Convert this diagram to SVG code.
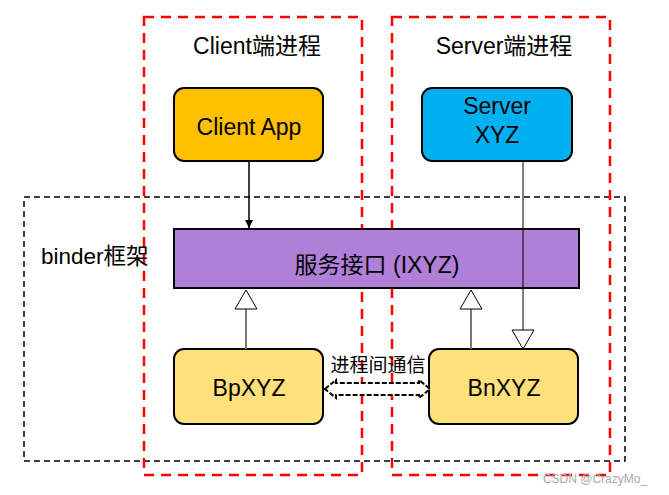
<svg xmlns="http://www.w3.org/2000/svg" width="669" height="495" viewBox="0 0 669 495">
<style>
text{font-family:"Liberation Sans",Arial,"Noto Sans CJK SC",sans-serif;fill:#000}
.red{fill:none;stroke:#FF0000;stroke-width:2.5;stroke-dasharray:10,7}
.blk{fill:none;stroke:#000;stroke-width:1.5;stroke-dasharray:6,4}
.node{stroke:#000;stroke-width:2}
.t{font-size:23px;text-anchor:middle}
.tri{fill:#fff;stroke:#000;stroke-width:1}
</style>
<defs>
<marker id="fa" viewBox="0 0 10 10" refX="10" refY="5" markerWidth="8" markerHeight="8" orient="auto" markerUnits="userSpaceOnUse"><path d="M0,0L10,5L0,10Z" fill="#000"/></marker>
</defs>
<rect class="blk" x="24" y="197" width="601" height="264"/>
<rect class="red" x="144" y="17" width="218" height="458"/>
<rect class="red" x="392" y="17" width="218" height="458"/>
<text x="257" y="54" class="t">Client端进程</text>
<text x="504" y="54" class="t">Server端进程</text>
<text x="41" y="264" font-size="22.5">binder框架</text>
<g id="client"><rect class="node" x="174" y="88" width="149" height="73" rx="10" fill="#FFC000"/><text x="249" y="135" class="t">Client App</text></g>
<g id="server"><rect class="node" x="422" y="88" width="150" height="73" rx="10" fill="#00B0F0"/><text x="497" y="114" class="t">Server</text><text x="497" y="143" class="t">XYZ</text></g>
<g id="iface"><rect class="node" x="174" y="229" width="405" height="59" fill="#B07FD8"/><text x="377" y="273" class="t">服务接口 (IXYZ)</text></g>
<g id="bp"><rect class="node" x="174" y="349" width="149" height="75" rx="10" fill="#FFE07A"/><text x="249" y="396" class="t">BpXYZ</text></g>
<g id="bn"><rect class="node" x="429" y="349" width="149" height="75" rx="10" fill="#FFE07A"/><text x="504" y="396" class="t">BnXYZ</text></g>
<g id="connectors">
<line x1="249" y1="161" x2="249" y2="228" stroke="#000" stroke-width="1.5" marker-end="url(#fa)"/>
<line x1="246" y1="349" x2="246" y2="309" stroke="#777" stroke-width="2"/>
<path class="tri" d="M246,290L257,309L235,309Z"/>
<line x1="471" y1="349" x2="471" y2="309" stroke="#777" stroke-width="2"/>
<path class="tri" d="M471,290L482,309L460,309Z"/>
<line x1="523" y1="161" x2="523" y2="330" stroke="#000" stroke-width="1"/>
<path class="tri" d="M523,349L512,330L534,330Z"/>
<path d="M325,389L336,380L336,383L419,383L419,380L430,389L419,398L419,395L336,395L336,398Z" fill="#fff" stroke="#000" stroke-width="2" stroke-dasharray="5,2"/>
<text x="378" y="372" font-size="19" text-anchor="middle">进程间通信</text>
</g>
<text x="595" y="483" font-size="12" text-anchor="middle" style="fill:#aaa">CSDN @CrazyMo_</text>
</svg>
